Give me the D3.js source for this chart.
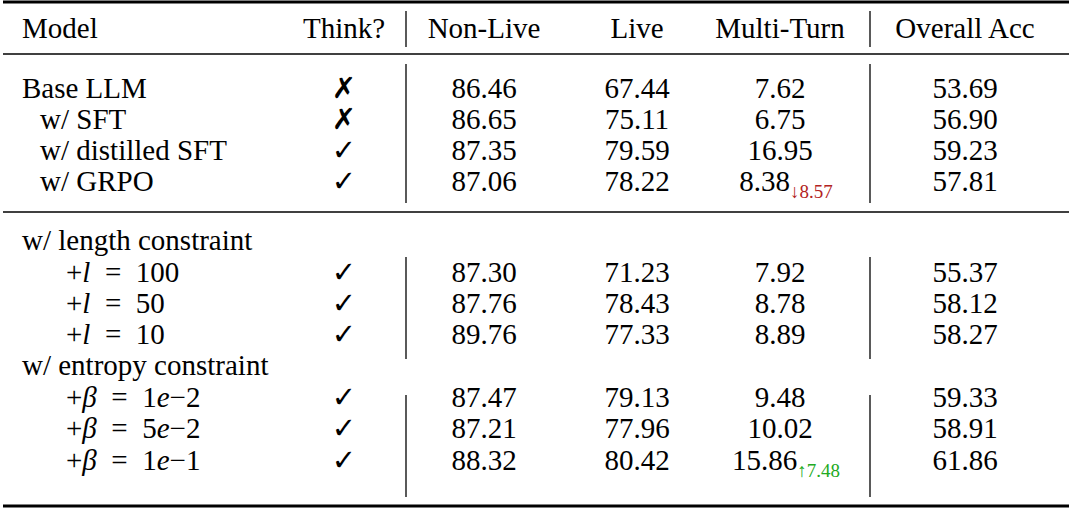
<!DOCTYPE html>
<html>
<head>
<meta charset="utf-8">
<script src="https://cdn.jsdelivr.net/npm/d3@7"></script>
<style>
  body { margin: 0; background: #fff; }
  text { font-family: "Liberation Serif", "DejaVu Serif", serif; font-size: 29px; fill: #000; }
</style>
</head>
<body>
<div id="table"></div>
<script>
var headers = ["Model", "Think?", "Non-Live", "Live", "Multi-Turn", "Overall Acc"];

var models = ["Base LLM", "w/ SFT", "w/ distilled SFT", "w/ GRPO",
    "w/ length constraint", "+l = 100", "+l = 50", "+l = 10",
    "w/ entropy constraint", "+β = 1e−2", "+β = 5e−2", "+β = 1e−1"];
var indent = [0, 1, 1, 1, 0, 2, 2, 2, 0, 2, 2, 2];
var think = ["✗", "✗", "✓", "✓", "", "✓", "✓", "✓", "", "✓", "✓", "✓"];
var nonLive = [86.46, 86.65, 87.35, 87.06, null, 87.30, 87.76, 89.76, null, 87.47, 87.21, 88.32];
var live = [67.44, 75.11, 79.59, 78.22, null, 71.23, 78.43, 77.33, null, 79.13, 77.96, 80.42];
var multiTurn = [7.62, 6.75, 16.95, 8.38, null, 7.92, 8.78, 8.89, null, 9.48, 10.02, 15.86];
var overall = [53.69, 56.90, 59.23, 57.81, null, 55.37, 58.12, 58.27, null, 59.33, 58.91, 61.86];
var deltas = {3: {t: "↓8.57", c: "#b22222"}, 11: {t: "↑7.48", c: "#22aa22"}};

var width = 1072, height = 509;
var rowY = [88, 119, 150, 181, 240, 272, 303, 334, 365, 397, 428, 460];
var colX = [22, 344, 484, 637, 780, 965];

var svg = d3.select("#table").append("svg")
    .attr("width", width).attr("height", height);

// rules
[{y: 2, w: 3}, {y: 54, w: 1.6}, {y: 212, w: 1.6}, {y: 506, w: 3}].forEach(function (r) {
    svg.append("line").attr("x1", 3).attr("x2", 1069)
        .attr("y1", r.y).attr("y2", r.y)
        .attr("stroke", "#000").attr("stroke-width", r.w);
});

// vertical separators
var spans = [[11, 47], [64, 203], [257, 359], [395, 497]];
[406, 870].forEach(function (x) {
    spans.forEach(function (s) {
        svg.append("line").attr("x1", x).attr("x2", x)
            .attr("y1", s[0]).attr("y2", s[1])
            .attr("stroke", "#000").attr("stroke-width", 1.3);
    });
});

// header
svg.selectAll("text.h").data(headers).enter().append("text")
    .attr("class", "h")
    .attr("x", function (d, i) { return colX[i]; })
    .attr("y", 38)
    .attr("text-anchor", function (d, i) { return i === 0 ? "start" : "middle"; })
    .text(function (d) { return d; });

// model labels
models.forEach(function (m, i) {
    var t = svg.append("text")
        .attr("x", colX[0] + indent[i] * 18 + (indent[i] === 2 ? 8 : 0))
        .attr("y", rowY[i] + 10);
    if (m[0] === "+") {
        var parts = m.slice(1).split(" = ");
        var rhs = parts[1];
        t.append("tspan").text("+");
        t.append("tspan").attr("font-style", "italic").text(parts[0]);
        t.append("tspan").attr("xml:space", "preserve").text("  =  ");
        var e = rhs.indexOf("e");
        if (e < 0) t.append("tspan").text(rhs);
        else {
            t.append("tspan").text(rhs.slice(0, e));
            t.append("tspan").attr("font-style", "italic").text("e");
            t.append("tspan").text(rhs.slice(e + 1));
        }
    } else t.text(m);
});

// think marks
svg.selectAll("text.k").data(think).enter().append("text")
    .attr("class", "k")
    .attr("x", colX[1]).attr("y", function (d, i) { return rowY[i] + 10; })
    .attr("text-anchor", "middle")
    .style("font-family", "DejaVu Sans")
    .style("font-size", "29px")
    .style("font-weight", "bold")
    .text(function (d) { return d; });

// numeric columns
[nonLive, live, multiTurn, overall].forEach(function (col, c) {
    col.forEach(function (v, i) {
        if (v === null) return;
        var t = svg.append("text")
            .attr("y", rowY[i] + 10)
            .attr("text-anchor", "middle");
        t.append("tspan").text(v.toFixed(2));
        if (c === 2 && deltas[i]) {
            t.append("tspan").attr("dy", 7).style("font-size", "19px")
                .style("fill", deltas[i].c).text(deltas[i].t);
            t.attr("x", colX[4] + 6);
        } else t.attr("x", colX[c + 2]);
    });
});
</script>
</body>
</html>
